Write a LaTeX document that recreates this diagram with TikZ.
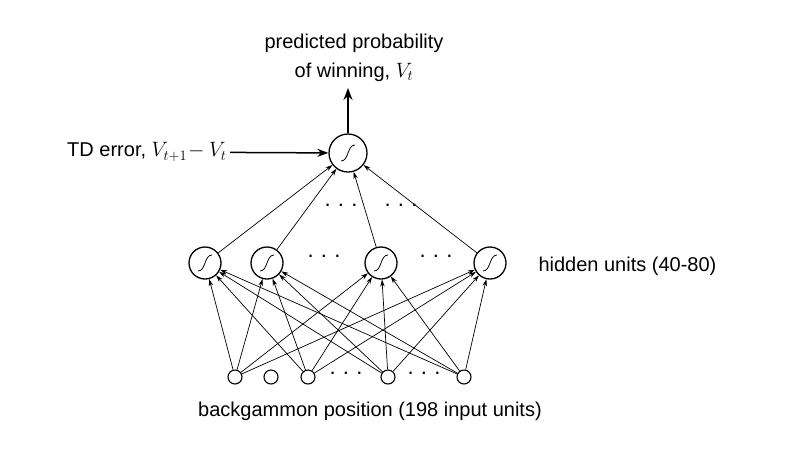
\documentclass[tikz,border=0pt]{standalone}
\usepackage{fontspec}
\setmainfont{Liberation Sans}
\usetikzlibrary{arrows.meta,calc}
\begin{document}
\begin{tikzpicture}[x=1pt,y=-1pt,
  unit/.style={circle,draw,line width=1.3pt,inner sep=0pt},
  hid/.style={unit,minimum size=32pt},
  inp/.style={unit,minimum size=14pt,line width=1.1pt},
  conn/.style={-{Stealth[length=7pt,width=4.5pt]},line width=0.7pt},
  lbl/.style={font=\fontsize{20}{29}\selectfont},
  dots/.style={font=\fontsize{22}{22}\selectfont}]
\useasboundingbox (0,0) rectangle (805,451);
\node[hid,minimum size=38pt] (o) at (348,153) {};
\foreach \n/\x in {h1/205,h2/267,h3/381,h4/490}
  \node[hid] (\n) at (\x,263) {};
\foreach \n/\x in {i1/235,i2/271,i3/308,i4/388,i5/464}
  \node[inp] (\n) at (\x,377) {};
\foreach \n in {o,h1,h2,h3,h4}
  \draw[line width=0.8pt] ($(\n)+(-7,8)$) .. controls ($(\n)+(1,8)$) and ($(\n)+(-1,-8)$) .. ($(\n)+(7,-8)$);
\foreach \h in {h1,h2,h3,h4} \draw[conn] (\h) -- (o);
\foreach \i in {i1,i3,i4,i5}
  \foreach \h in {h1,h2,h3,h4} \draw[conn] (\i) -- (\h);
\coordinate (out) at (348,88);
\draw[-{Stealth[length=12pt,width=9pt]},line width=2pt] (o) -- (out);
\node[lbl,anchor=east] (td) at (230,152) {TD error, $V_{t+1}\!-V_t$};
\draw[-{Stealth[length=11pt,width=8pt]},line width=1.5pt] (td) -- (o);
\node[lbl,align=center] (pp) at (354,58) {predicted probability\\of winning, $V_t$};
\node[lbl,anchor=west] (hu) at (535,266) {hidden units (40-80)};
\node[lbl] (bg) at (370,411) {backgammon position (198 input units)};
\foreach \x/\y in {325/212,385/212,308/263,420/263,330/380,408/380}
  \node[dots] (d\x\y) at (\x+16,\y-7) {.\,\,.\,\,.};
\end{tikzpicture}
\end{document}
